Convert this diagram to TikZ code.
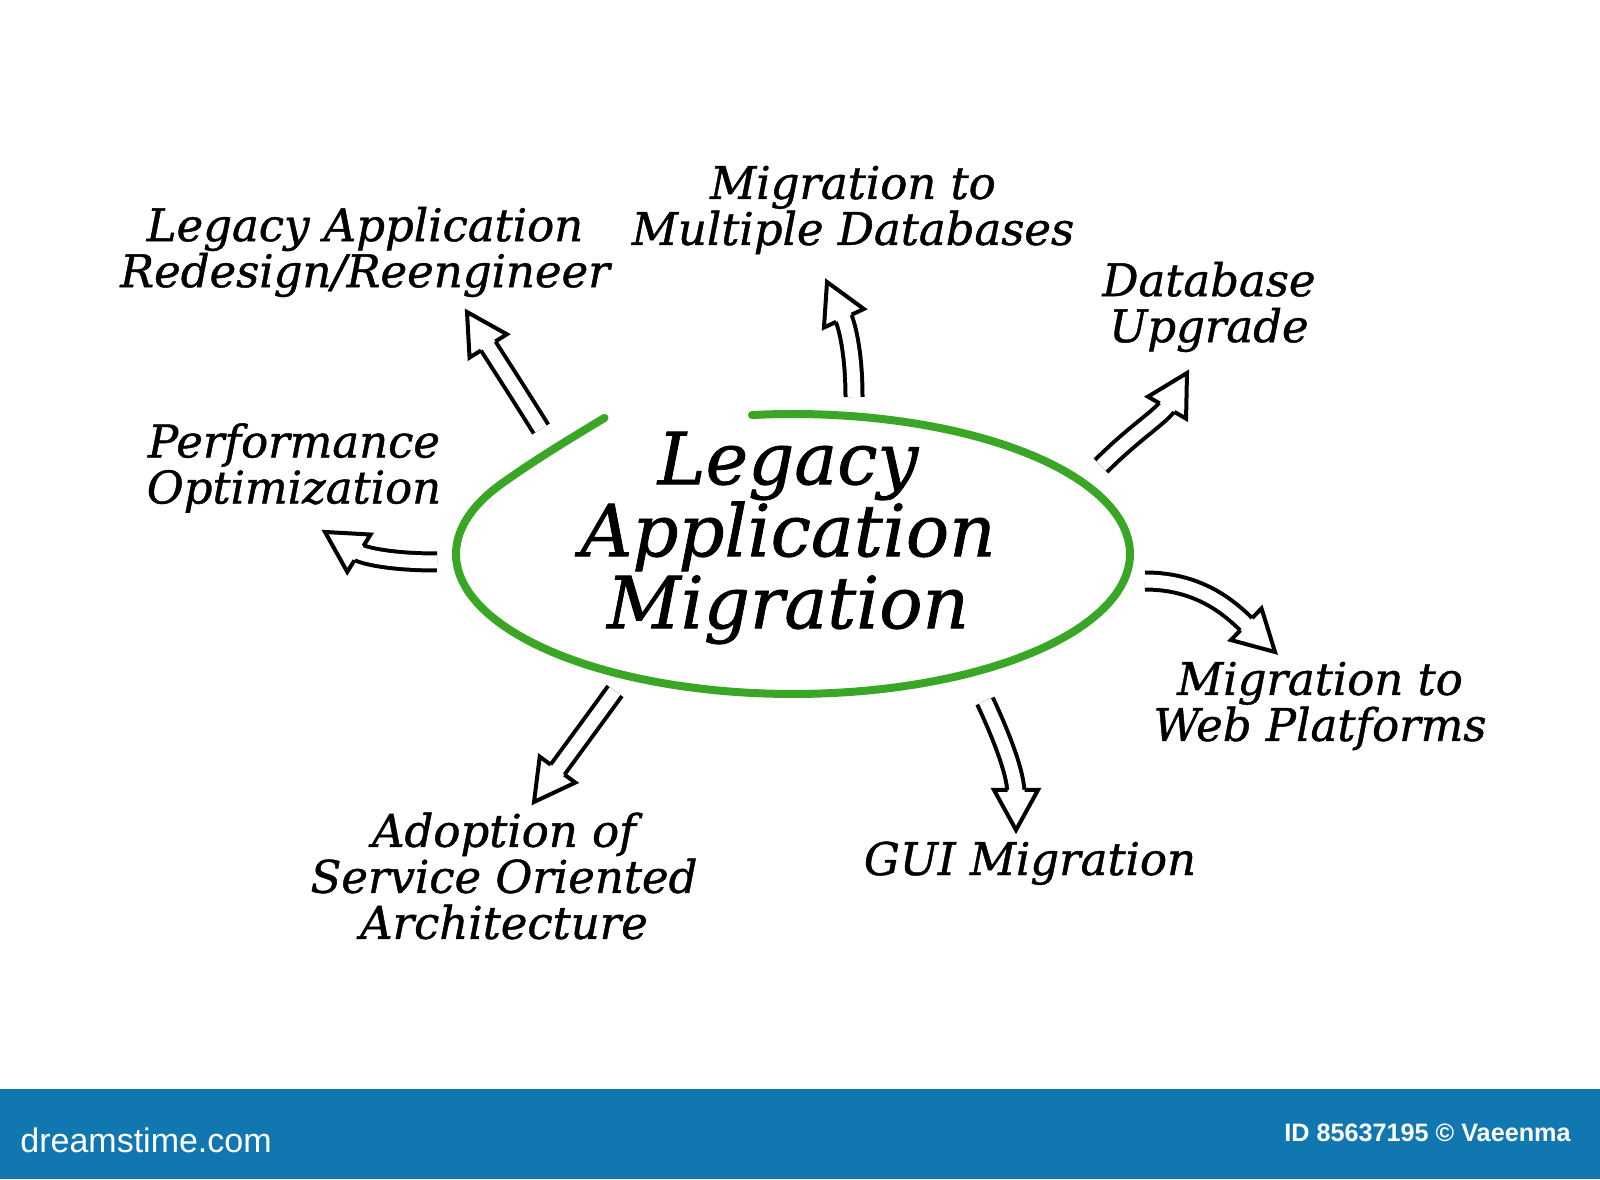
\documentclass[tikz,border=0pt]{standalone}
\usepackage{fontspec}
\setmainfont{DejaVu Serif}[ItalicFeatures={FakeBold=1}]
\newfontfamily\barfont{Liberation Sans}
\usetikzlibrary{decorations.markings}

\definecolor{ringgreen}{RGB}{58,166,38}
\definecolor{barblue}{RGB}{17,119,176}

\begin{document}
\begin{tikzpicture}[
    x=0.5pt, y=0.5pt,
    topic/.style={font=\itshape\fontsize{22.5}{23}\selectfont, align=center, inner sep=0pt},
    core/.style={font=\itshape\fontsize{36}{36}\selectfont, align=center, inner sep=0pt},
    ring/.style={draw=ringgreen, line width=4pt, line cap=round, line join=round},
    shaft/.style={line width=2pt, double=white, double distance=6.5pt, shorten >=18pt},
    headmark/.style={decorate, decoration={markings, mark=at position 1 with {
        \draw[line width=2pt, line join=miter, fill=white]
            (-20pt,4.25pt) -- (-20pt,11pt) -- (0pt,0pt) -- (-20pt,-11pt) -- (-20pt,-4.25pt);
    }}}
]
    \fill[white] (0,0) rectangle (1600,1179);
    \useasboundingbox (0,0) rectangle (1600,1179);

    % Centre
    \node[core] (core) at (788,641) {Legacy\\Application\\Migration};
    \draw[ring] plot[domain=124:457, samples=140, smooth]
        ({793+337*cos(\x)}, {625+140*sin(\x)+0.0296*(max(0,150-\x))^2});

    % Topics
    \node[topic] (redesign) at (365,927) {Legacy Application\\Redesign/Reengineer};
    \node[topic] (multidb) at (853,969) {Migration to\\Multiple Databases};
    \node[topic] (dbup) at (1209,872) {Database\\Upgrade};
    \node[topic] (perf) at (294,711) {Performance\\Optimization};
    \node[topic] (webplat) at (1320,473) {Migration to\\Web Platforms};
    \node[topic, anchor=base] (gui) at (1030,304) {GUI Migration};
    \node[topic] (soa) at (504,303) {Adoption of\\Service Oriented\\Architecture};

    % Arrow ends
    \coordinate (redesign-tail) at (541,750);
    \coordinate (redesign-tip) at (467,867);
    \coordinate (multidb-tail) at (854,782);
    \coordinate (multidb-tip) at (827,897);
    \coordinate (dbup-tail) at (1101,713);
    \coordinate (dbup-tip) at (1187,806);
    \coordinate (perf-tail) at (437,617);
    \coordinate (perf-tip) at (325,647);
    \coordinate (webplat-tail) at (1145,598);
    \coordinate (webplat-tip) at (1275,527);
    \coordinate (soa-tail) at (615,488);
    \coordinate (soa-tip) at (534,377);
    \coordinate (gui-tail) at (985,478);
    \coordinate (gui-tip) at (1016,349);

    % Arrows
    \foreach \n/\o/\i in {redesign/122/-58, multidb/90/-65, dbup/45/-120, perf/180/-32,
                         webplat/0/136, soa/-126/54, gui/-65/90} {
        \draw[shaft] (\n-tail) to[out=\o, in=\i] (\n-tip);
        \path[headmark] (\n-tail) to[out=\o, in=\i] (\n-tip);
    }

    % Footer bar
    \fill[barblue] (0,0) rectangle (1600,90);
    \node[anchor=west, text=white, font=\barfont\fontsize{17}{17}\selectfont, inner sep=0pt] (site) at (20,39) {dreamstime.com};
    \node[anchor=east, text=white, font=\barfont\bfseries\fontsize{12.6}{13}\selectfont, inner sep=0pt] (imgid) at (1571,46) {ID 85637195 © Vaeenma};
\end{tikzpicture}
\end{document}
